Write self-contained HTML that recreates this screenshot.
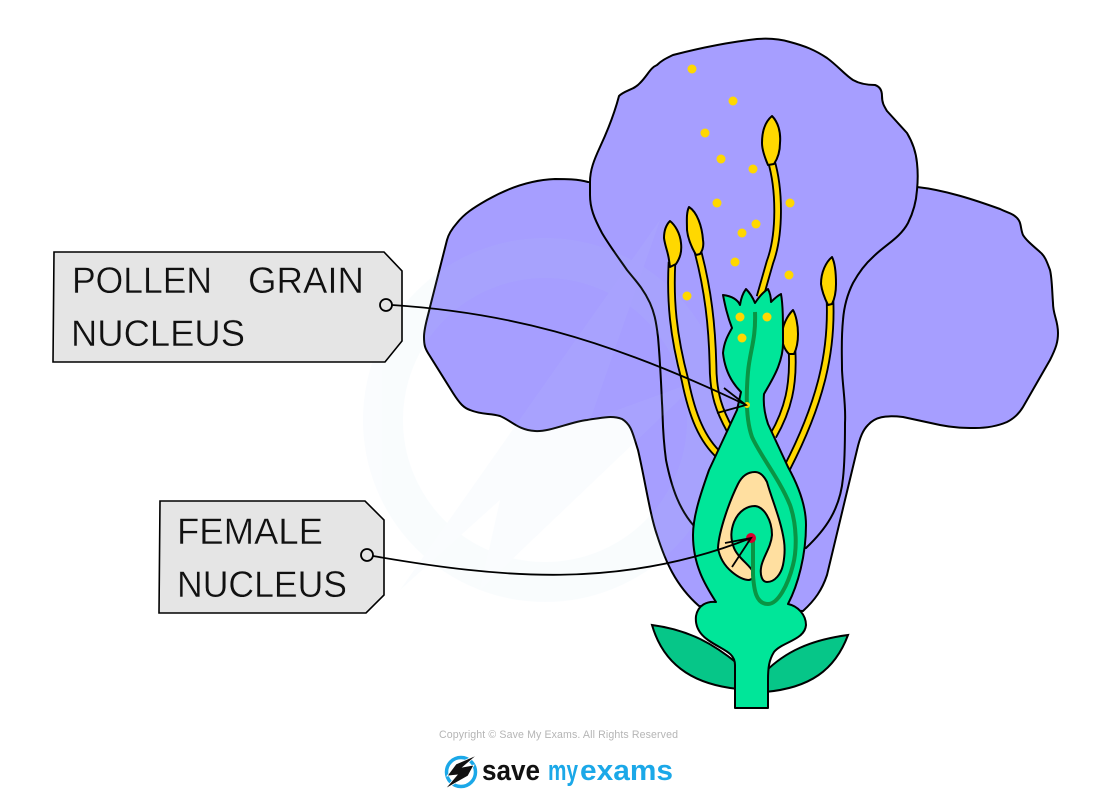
<!DOCTYPE html>
<html><head><meta charset="utf-8"><style>
html,body{margin:0;padding:0;background:#fff}
svg{display:block}
text{font-family:"Liberation Sans",sans-serif}
.lbl{font-size:37px;fill:#111;stroke:#e5e5e5;stroke-width:.4}
</style></head><body>
<svg width="1100" height="807" viewBox="0 0 1100 807" xmlns="http://www.w3.org/2000/svg">
<rect width="1100" height="807" fill="#fff"/>
<!-- side petals -->
<path d="M588 182 C578 179 565 179 555 179 C530 180 508 188 487 200 C473 208 464 214 457 223 C450 231 448 236 447 240 L430 307 C427 320 424 328 424 337 C424 345 425 348 428 353 L453 393 C460 404 464 408 470 410 C482 415 490 413 500 416 C512 421 518 430 535 431 C550 432 570 422 587 420 C600 418 612 415 622 419 C632 425 633 435 638 450 C645 480 650 515 657 535 C665 560 675 585 699 606 L803 611 C815 600 822 590 827 575 L857 450 C860 437 863 430 868 425 C875 417 885 415 903 417 L940 425 C955 428 965 428 975 428 C990 428 1000 425 1007 422 C1015 418 1020 412 1023 407 L1050 360 C1056 348 1058 342 1058 333 C1058 320 1053 315 1053 303 C1052 290 1052 278 1050 270 C1047 262 1045 256 1040 252 C1032 245 1026 240 1023 235 C1020 228 1022 222 1016 217 C1012 213 1008 213 1000 209 C975 200 945 190 917 187 Z" fill="#a69eff" stroke="#000" stroke-width="2" stroke-linejoin="round"/>
<!-- back petal -->
<path d="M590 182 C590 170 594 160 600 147 C607 132 614 115 619 96 C625 90 634 90 640 83 C648 75 650 68 657 65 C662 60 667 58 673 55 C700 48 730 42 757 39 C770 38 780 39 790 42 C805 46 815 50 827 58 C838 66 845 75 853 80 C860 84 868 85 875 85 C881 87 882 92 882 96 C882 103 884 106 887 111 L907 133 C913 143 916 152 917 163 C918 172 918 180 917 190 C916 205 912 215 908 223 C900 238 885 245 873 257 C864 265 858 274 853 283 C847 295 844 307 843 320 C841 340 842 355 842 370 C843 390 846 405 845 423 C845 440 845 460 843 478 C840 510 825 530 806 548 L694 526 C680 510 672 490 666 460 C662 430 663 415 662 403 C661 380 660 360 658 337 C656 320 654 312 650 303 C643 288 635 280 627 270 C618 257 609 245 602 233 C594 218 590 208 590 195 Z" fill="#a69eff" stroke="#000" stroke-width="2" stroke-linejoin="round"/>
<!-- watermark -->
<g opacity=".07">
<circle cx="545" cy="420" r="162" fill="none" stroke="#b8d8f0" stroke-width="40"/>
<path d="M660 220 L400 590 L500 500 L480 590 L700 380 L590 420 Z" fill="#c8e0f2"/>
</g>
<!-- stamen filaments -->
<g fill="none">
<g stroke="#000" stroke-width="8.5">
<path d="M672 262 C670 300 673 335 685 380 C692 415 702 440 720 456"/>
<path d="M698 252 C708 290 712 325 713 365 C713 395 720 412 730 430"/>
<path d="M771 160 C780 190 780 235 770 262 L760 297"/>
<path d="M830 300 C832 350 822 400 787 468"/>
<path d="M792 350 C794 385 788 410 773 436"/>
</g>
<g stroke="#ffd800" stroke-width="4.8">
<path d="M672 262 C670 300 673 335 685 380 C692 415 702 440 720 456"/>
<path d="M698 252 C708 290 712 325 713 365 C713 395 720 412 730 430"/>
<path d="M771 160 C780 190 780 235 770 262 L760 297"/>
<path d="M830 300 C832 350 822 400 787 468"/>
<path d="M792 350 C794 385 788 410 773 436"/>
</g>
</g>
<!-- anthers -->
<g fill="#ffd800" stroke="#000" stroke-width="2" stroke-linejoin="round">
<path d="M670 221 C666 225 664 231 664 238 C665 246 668 252 669 260 L670 267 L676 264 C680 258 682 252 681 243 C680 233 675 225 670 221 Z"/>
<path d="M689 207 C686 213 687 222 687 230 C688 240 692 248 696 255 L700 254 C703 250 704 246 703 240 C702 226 697 212 689 207 Z"/>
<path d="M772 116 C766 121 762 130 762 143 C762 150 765 158 768 165 L774 164 C778 158 780 152 780 143 C781 132 778 122 772 116 Z"/>
<path d="M832 257 C826 262 821 272 821 284 C822 292 825 299 828 305 L832 304 C835 298 836 292 836 284 C836 274 835 263 832 257 Z"/>
<path d="M793 310 C787 316 782 326 782 336 C782 344 785 350 789 354 L794 354 C797 348 798 342 798 334 C798 325 796 315 793 310 Z"/>
</g>
<!-- leaves -->
<g fill="#06c688" stroke="#000" stroke-width="2">
<path d="M652 625 C690 630 715 645 738 664 L738 689 C700 685 665 670 652 625 Z"/>
<path d="M848 635 C810 640 785 652 765 672 L765 692 C810 688 835 670 848 635 Z"/>
</g>
<!-- pistil -->
<path d="M723 295 C732 296 738 300 740 305 C741 298 743 293 746 289 C750 293 753 298 755 303 C759 297 763 292 768 289 C770 293 771 298 771 302 C774 299 777 296 781 294 C783 305 783 320 783 340 C784 362 772 380 764 394 C763 405 765 415 768 424 L788 467 C798 485 806 505 806 525 C806 555 798 585 788 604 C798 606 806 615 806 625 C805 640 782 642 774 652 C769 660 768 668 768 680 L768 708 L735 708 L735 665 C735 652 722 650 708 640 C698 633 695 625 696 616 C698 605 707 601 716 602 C705 585 693 565 693 535 C693 515 702 490 709 470 L737 410 L741 392 C733 384 725 372 723 353 C724 342 728 335 732 328 C727 315 725 305 723 295 Z" fill="#00e699" stroke="#000" stroke-width="2" stroke-linejoin="round"/>
<!-- ovule -->
<path d="M755 472 C746 472 741 478 738 484 C730 500 719 530 718 548 C720 560 726 567 732 572 C738 577 744 580 749 580 C753 579 755 576 753 572 C751 566 738 558 734 548 C730 538 731 530 734 522 C739 510 748 506 755 506 C764 507 772 520 772 535 C771 548 762 558 761 568 C760 575 762 582 767 582 C775 582 781 574 783 565 C785 555 785 548 784 541 C781 520 772 500 767 482 C764 476 760 472 755 472 Z" fill="#ffdfa0" stroke="#000" stroke-width="2" stroke-linejoin="round"/>
<!-- pollen tube -->
<path d="M755 312 C756 340 750 350 748 372 C746 395 746 420 752 437 C760 455 780 480 790 505 C797 525 797 550 793 565 C788 585 778 604 768 604 C756 604 754 590 753 575 L753 541" fill="none" stroke="#0a9444" stroke-width="4"/>
<!-- dots -->
<g fill="#ffd800">
<circle cx="692" cy="69" r="4.5"/><circle cx="733" cy="101" r="4.5"/><circle cx="705" cy="133" r="4.5"/><circle cx="721" cy="159" r="4.5"/><circle cx="753" cy="169" r="4.5"/><circle cx="717" cy="203" r="4.5"/><circle cx="790" cy="203" r="4.5"/><circle cx="756" cy="224" r="4.5"/><circle cx="742" cy="233" r="4.5"/><circle cx="735" cy="262" r="4.5"/><circle cx="789" cy="275" r="4.5"/><circle cx="687" cy="296" r="4.5"/><circle cx="740" cy="317" r="4.5"/><circle cx="767" cy="317" r="4.5"/><circle cx="742" cy="338" r="4.5"/><circle cx="747" cy="405" r="3"/>
</g>
<circle cx="751" cy="538" r="5" fill="#d6002f"/>
<!-- tags -->
<path d="M54 252 L384 252 L402 271 L402 341 L385 362 L53 362 Z" fill="#e5e5e5" stroke="#000" stroke-width="1.6"/>
<path d="M160 501 L365 501 L384 520 L384 595 L366 613 L159 613 Z" fill="#e5e5e5" stroke="#000" stroke-width="1.6"/>
<text class="lbl" x="72" y="293" textLength="140" lengthAdjust="spacingAndGlyphs">POLLEN</text>
<text class="lbl" x="248" y="293" textLength="116" lengthAdjust="spacingAndGlyphs">GRAIN</text>
<text class="lbl" x="71" y="346" textLength="174" lengthAdjust="spacingAndGlyphs">NUCLEUS</text>
<text class="lbl" x="177" y="544" textLength="146" lengthAdjust="spacingAndGlyphs">FEMALE</text>
<text class="lbl" x="177" y="597" textLength="170" lengthAdjust="spacingAndGlyphs">NUCLEUS</text>
<!-- leaders -->
<g fill="none" stroke="#000" stroke-width="1.8">
<circle cx="386" cy="305" r="6"/>
<circle cx="367" cy="555" r="6"/>
<path d="M392 305 C500 312 600 335 746 405 M724 388 L746 405 L717 413"/>
<path d="M373 556 C500 578 620 590 751 538 M725 543 L751 538 L732 567"/>
</g>
<!-- footer -->
<text x="439" y="738" font-size="10.6" fill="#b5b5b5" textLength="239" lengthAdjust="spacing">Copyright © Save My Exams. All Rights Reserved</text>
<circle cx="461" cy="772" r="14.5" fill="none" stroke="#1ba8e8" stroke-width="3.5"/>
<path d="M477 755 L456 764 L447 776 L457 775 L445 789 L468 776 L474 765 L463 767 Z" fill="#111" stroke="#fff" stroke-width=".8"/>
<text x="482" y="780" font-size="29" font-weight="700" fill="#111" textLength="58" lengthAdjust="spacingAndGlyphs">save</text>
<text x="548" y="780" font-size="29" font-weight="700" fill="#1ba8e8" textLength="30" lengthAdjust="spacingAndGlyphs">my</text>
<text x="580" y="780" font-size="29" font-weight="700" fill="#1ba8e8" textLength="93" lengthAdjust="spacingAndGlyphs">exams</text>
</svg>
</body></html>
